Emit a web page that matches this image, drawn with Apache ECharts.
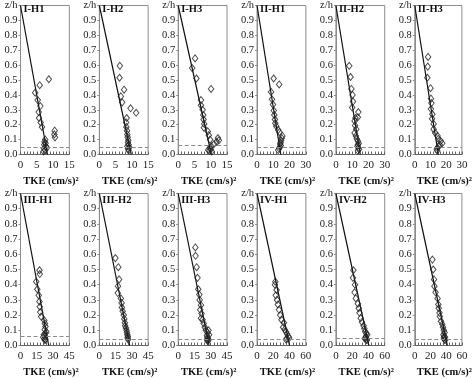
<!DOCTYPE html>
<html><head><meta charset="utf-8">
<script src="https://cdn.jsdelivr.net/npm/echarts@6/dist/echarts.min.js"></script>
<style>html,body{margin:0;padding:0;background:#fff}#c{width:474px;height:379px}</style>
</head><body><div id="c"></div>
<script>
const panelNames = ['I-H1','I-H2','I-H3','II-H1','II-H2','II-H3','III-H1','III-H2','III-H3','IV-H1','IV-H2','IV-H3'];
const xMax = [15,15,15,30,30,30,45,45,45,60,60,60];
const xInterval = [5,5,5,10,10,10,15,15,15,20,20,20];
// fitted line: from (0, z/h=1) to (lineBottomX, z/h=0)
const lineTopZ = 1.0;
const lineBottomX = [8.3,9.8,10.2,14.6,15.0,15.0,26.0,28.0,28.5,40.0,40.5,41.5];
const dashZ = [0.05,0.05,0.06,0.05,0.05,0.05,0.06,0.04,0.04,0.04,0.05,0.04];

const pts_I_H1 = [[8.7,0.505],[5.9,0.465],[4.5,0.415],[5.3,0.365],[6.1,0.325],[5.6,0.285],[5.7,0.245],[6.2,0.215],[6.6,0.185],[10.5,0.16],[10.4,0.135],[10.6,0.115],[7.6,0.10],[7.4,0.085],[7.7,0.075],[7.3,0.065],[7.8,0.055],[8.1,0.045],[7.2,0.04],[7.6,0.03],[7.1,0.02]];
const pts_I_H2 = [[6.3,0.595],[6.2,0.515],[7.6,0.435],[6.6,0.39],[7.0,0.35],[9.6,0.31],[11.3,0.28],[8.4,0.245],[8.2,0.215],[8.3,0.185],[8.5,0.16],[8.6,0.135],[8.7,0.115],[8.9,0.095],[8.8,0.08],[9.0,0.065],[8.6,0.055],[9.2,0.048],[8.8,0.038],[9.0,0.028]];
const pts_I_H3 = [[5.2,0.645],[4.3,0.58],[5.6,0.51],[10.1,0.44],[7.0,0.365],[7.0,0.33],[7.5,0.30],[7.7,0.265],[7.8,0.235],[8.0,0.205],[7.9,0.18],[9.1,0.155],[9.4,0.13],[9.8,0.10],[12.2,0.11],[12.5,0.095],[11.8,0.085],[11.0,0.07],[10.2,0.055],[9.8,0.045],[10.0,0.035],[9.2,0.03],[9.6,0.025],[10.3,0.02]];
const pts_II_H1 = [[10.2,0.51],[13.6,0.47],[8.6,0.42],[9.2,0.37],[9.8,0.335],[10.3,0.295],[10.6,0.265],[11.0,0.235],[11.2,0.21],[11.8,0.19],[13.0,0.165],[13.8,0.15],[15.6,0.125],[15.2,0.11],[14.8,0.095],[14.5,0.08],[14.2,0.07],[14.6,0.06],[14.0,0.05],[13.6,0.04],[13.0,0.03]];
const pts_II_H2 = [[8.2,0.595],[9.0,0.52],[9.5,0.44],[10.2,0.40],[10.5,0.355],[10.0,0.315],[13.8,0.285],[12.0,0.245],[13.5,0.25],[11.5,0.225],[11.8,0.195],[12.5,0.17],[11.5,0.145],[12.3,0.125],[12.8,0.105],[13.5,0.09],[14.0,0.075],[13.6,0.065],[13.2,0.055],[13.8,0.045],[14.2,0.035],[13.5,0.025]];
const pts_II_H3 = [[8.5,0.655],[8.3,0.59],[8.0,0.515],[10.0,0.445],[10.3,0.375],[10.6,0.345],[10.3,0.305],[11.2,0.27],[11.0,0.24],[12.0,0.205],[12.0,0.17],[13.0,0.145],[14.5,0.125],[15.0,0.105],[16.5,0.09],[17.5,0.075],[16.0,0.065],[15.2,0.055],[14.5,0.045],[14.0,0.035],[14.3,0.025]];
const pts_III_H1 = [[17.5,0.495],[17.8,0.47],[14.5,0.42],[15.5,0.37],[16.8,0.33],[17.5,0.29],[17.8,0.255],[18.2,0.22],[19.0,0.19],[22.0,0.165],[22.5,0.145],[23.0,0.125],[22.3,0.105],[23.8,0.09],[23.0,0.08],[21.5,0.07],[22.5,0.06],[21.0,0.055],[22.0,0.045],[23.0,0.04],[22.5,0.035]];
const pts_III_H2 = [[14.8,0.575],[17.5,0.515],[18.2,0.435],[17.2,0.39],[17.0,0.345],[19.8,0.31],[20.5,0.28],[20.8,0.25],[21.5,0.225],[22.5,0.20],[23.0,0.175],[23.5,0.15],[23.8,0.13],[24.5,0.115],[25.0,0.10],[25.5,0.085],[25.8,0.07],[26.3,0.06],[26.0,0.05],[26.5,0.04]];
const pts_III_H3 = [[15.8,0.645],[16.0,0.59],[17.0,0.515],[17.8,0.445],[18.5,0.37],[19.5,0.335],[19.8,0.30],[21.0,0.265],[20.3,0.235],[21.5,0.21],[21.0,0.18],[22.5,0.17],[23.5,0.145],[24.5,0.12],[25.5,0.10],[28.0,0.10],[27.0,0.085],[28.5,0.07],[26.5,0.065],[27.0,0.055],[27.5,0.045],[26.5,0.04],[27.8,0.035],[27.0,0.03]];
const pts_IV_H1 = [[22.5,0.42],[22.0,0.40],[24.0,0.365],[23.0,0.33],[24.5,0.30],[25.5,0.27],[27.0,0.235],[28.5,0.20],[30.0,0.17],[33.0,0.15],[32.0,0.12],[34.0,0.105],[35.5,0.09],[37.0,0.075],[38.5,0.06],[39.5,0.05],[37.0,0.045],[35.5,0.04]];
const pts_IV_H2 = [[21.5,0.495],[21.0,0.445],[23.5,0.40],[23.0,0.35],[24.5,0.31],[27.0,0.275],[28.0,0.245],[29.0,0.215],[30.5,0.18],[32.0,0.155],[34.0,0.13],[35.0,0.11],[36.0,0.09],[37.5,0.08],[38.5,0.07],[37.0,0.06],[36.5,0.05],[35.5,0.045],[37.5,0.04],[38.0,0.035]];
const pts_IV_H3 = [[22.5,0.565],[23.5,0.50],[24.5,0.435],[25.0,0.39],[26.5,0.35],[29.0,0.31],[30.0,0.27],[30.5,0.245],[31.5,0.215],[32.0,0.19],[33.5,0.16],[35.0,0.14],[36.0,0.12],[37.0,0.10],[38.0,0.085],[36.5,0.07],[37.5,0.06],[38.5,0.055],[37.0,0.05],[38.0,0.04],[38.5,0.035]];
const panelPoints = [pts_I_H1,pts_I_H2,pts_I_H3,pts_II_H1,pts_II_H2,pts_II_H3,pts_III_H1,pts_III_H2,pts_III_H3,pts_IV_H1,pts_IV_H2,pts_IV_H3];
const xAxisTitle = 'TKE (cm/s)²';
const yTopLabel = 'z/h';

const FONT = '"Liberation Serif","Times New Roman",serif';
const grids = [], xAxes = [], yAxes = [], series = [], titles = [];
for (let i = 0; i < 12; i++) {
  const col = i % 6, row = Math.floor(i / 6);
  const left = 20.5 + 78.85 * col;
  const top = row === 0 ? 2.5 : 193.5;
  grids.push({left: left, top: top, width: 48.8, height: 152, show: true, borderColor: '#8c8c8c', borderWidth: 1, backgroundColor: 'transparent'});
  xAxes.push({
    gridIndex: i, type: 'value', min: 0, max: xMax[i], interval: xInterval[i],
    name: xAxisTitle, nameLocation: 'middle', nameGap: 21,
    nameTextStyle: {fontFamily: FONT, fontWeight: 'bold', fontSize: 10.5, color: '#111', padding: [0, 0, 0, 12]},
    axisLine: {show: true, onZero: false, lineStyle: {color: '#666', width: 1}},
    axisTick: {show: true, inside: true, length: 3, lineStyle: {color: '#666'}},
    minorTick: {show: true, splitNumber: 5, length: 3, lineStyle: {color: '#666'}},
    splitLine: {show: false},
    axisLabel: {fontFamily: FONT, fontSize: 11, color: '#222', margin: 5}
  });
  yAxes.push({
    gridIndex: i, type: 'value', min: 0, max: 1, interval: 0.1,
    axisLine: {show: true, lineStyle: {color: '#8c8c8c', width: 1}},
    axisTick: {show: true, inside: false, length: 2, lineStyle: {color: '#8c8c8c'}},
    splitLine: {show: false},
    axisLabel: {fontFamily: FONT, fontSize: 10.5, color: '#222', margin: 3,
      formatter: v => (v >= 0.999 ? yTopLabel : v.toFixed(1))}
  });
  titles.push({text: panelNames[i], left: left + 3, top: top + 1.5, padding: 0,
    textStyle: {fontFamily: FONT, fontWeight: 'bold', fontSize: 10.5, color: '#111'}});
  series.push({
    type: 'line', xAxisIndex: i, yAxisIndex: i, data: [[0, lineTopZ], [lineBottomX[i], 0]],
    symbol: 'none', silent: true, lineStyle: {color: '#111', width: 1.2}, z: 3,
    markLine: {silent: true, symbol: 'none', label: {show: false},
      lineStyle: {color: '#8a8a8a', type: [4, 2.5], width: 1}, data: [{yAxis: dashZ[i]}]}
  });
  series.push({
    type: 'scatter', xAxisIndex: i, yAxisIndex: i, data: panelPoints[i],
    symbol: 'diamond', symbolSize: [5.5, 7], z: 4,
    itemStyle: {color: 'rgba(255,255,255,0)', borderColor: '#222', borderWidth: 1}
  });
}
const chart = echarts.init(document.getElementById('c'), null, {renderer: 'canvas'});
chart.setOption({animation: false, title: titles, grid: grids, xAxis: xAxes, yAxis: yAxes, series: series});
</script></body></html>
